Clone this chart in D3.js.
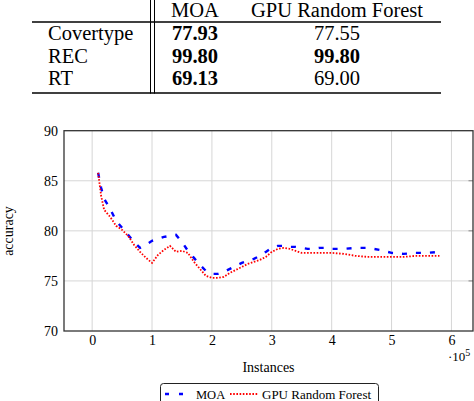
<!DOCTYPE html>
<html>
<head>
<meta charset="utf-8">
<script src="https://cdn.jsdelivr.net/npm/d3@7"></script>
<style>
html,body{margin:0;padding:0;background:#fff;}
svg{display:block;}
text{font-family:"Liberation Serif","Times New Roman",serif;fill:#000;}
</style>
</head>
<body>
<svg id="c" width="474" height="401"></svg>
<script>
// ---- table data ----
const tableColumns = ["MOA", "GPU Random Forest"];
const tableRows = ["Covertype", "REC", "RT"];
const moaValues = ["77.93", "99.80", "69.13"];
const gpuValues = ["77.55", "99.80", "69.00"];
const moaBold = [true, true, true];
const gpuBold = [false, true, false];

// ---- chart data (instances in units of 1e5) ----
const instances = [0.1,0.15,0.2,0.3,0.4,0.5,0.6,0.7,0.8,0.9,1.0,1.1,1.2,1.3,1.4,1.5,1.6,1.7,1.8,1.9,2.0,2.1,2.2,2.3,2.4,2.5,2.6,2.7,2.8,2.9,3.0,3.1,3.2,3.3,3.4,3.5,3.6,3.7,3.8,3.9,4.0,4.2,4.4,4.6,4.8,5.0,5.2,5.4,5.6,5.8];
const moaAcc = [85.8,84.3,83.2,82.2,81.0,80.3,79.6,78.9,78.3,78.6,79.0,79.2,79.4,79.5,79.6,78.9,78.0,77.3,76.6,76.0,75.7,75.7,75.9,76.2,76.5,76.8,77.0,77.2,77.5,77.9,78.3,78.5,78.5,78.4,78.4,78.3,78.2,78.2,78.3,78.3,78.2,78.2,78.3,78.3,78.1,77.8,77.7,77.8,77.8,77.9];
const gpuAcc = [85.8,83.5,82.1,81.4,80.5,80.1,79.5,78.6,77.9,77.3,76.8,77.6,78.1,78.5,77.9,78.0,77.8,76.9,76.2,75.5,75.3,75.3,75.4,75.8,76.1,76.4,76.7,76.9,77.1,77.4,77.9,78.2,78.3,78.2,78.0,77.8,77.8,77.8,77.8,77.8,77.8,77.7,77.5,77.4,77.4,77.4,77.4,77.5,77.5,77.5];
const xTicks = [0,1,2,3,4,5,6];
const yTicks = [70,75,80,85,90];
const seriesNames = ["MOA", "GPU Random Forest"];

const svg = d3.select("#c");

// ---- table ----
const tbl = svg.append("g");
const tFont = 20.5;
tbl.append("line").attr("x1",32).attr("x2",441).attr("y1",22).attr("y2",22).attr("stroke","#000").attr("stroke-width",1.3);
tbl.append("line").attr("x1",32).attr("x2",441).attr("y1",93).attr("y2",93).attr("stroke","#000").attr("stroke-width",1.3);
[150.5,154.5].forEach(x=>tbl.append("line").attr("x1",x).attr("x2",x).attr("y1",0).attr("y2",93.6).attr("stroke","#000").attr("stroke-width",1));
const colX = [195, 337];
tableColumns.forEach((c,i)=>tbl.append("text").attr("x",colX[i]).attr("y",17).attr("text-anchor","middle").attr("font-size",tFont).text(c));
const rowY = [40, 62.7, 85];
tableRows.forEach((r,i)=>{
  tbl.append("text").attr("x",48).attr("y",rowY[i]).attr("font-size",tFont).text(r);
  tbl.append("text").attr("x",colX[0]).attr("y",rowY[i]).attr("text-anchor","middle").attr("font-size",tFont)
     .attr("font-weight",moaBold[i]?"bold":"normal").text(moaValues[i]);
  tbl.append("text").attr("x",colX[1]).attr("y",rowY[i]).attr("text-anchor","middle").attr("font-size",tFont)
     .attr("font-weight",gpuBold[i]?"bold":"normal").text(gpuValues[i]);
});

// ---- chart ----
const L = 64, R = 473, T = 130.7, B = 331;
const x = d3.scaleLinear().domain([-0.47, 6.36]).range([L, R]);
const y = d3.scaleLinear().domain([70, 90]).range([B, T]);

const g = svg.append("g");
// grid
g.selectAll(".gx").data(xTicks).enter().append("line")
  .attr("x1",d=>x(d)).attr("x2",d=>x(d)).attr("y1",T).attr("y2",B)
  .attr("stroke","#d6d6d6").attr("stroke-width",1);
g.selectAll(".gy").data(yTicks.slice(1,-1)).enter().append("line")
  .attr("x1",L).attr("x2",R).attr("y1",d=>y(d)).attr("y2",d=>y(d))
  .attr("stroke","#d6d6d6").attr("stroke-width",1);
// right inside ticks
g.selectAll(".ry").data(yTicks.slice(1,-1)).enter().append("line")
  .attr("x1",R-4.5).attr("x2",R).attr("y1",d=>y(d)).attr("y2",d=>y(d))
  .attr("stroke","#888").attr("stroke-width",1);

// axes via d3
const xAxis = d3.axisBottom(x).tickValues(xTicks).tickSize(0).tickPadding(4).tickFormat(d3.format("d"));
const yAxis = d3.axisLeft(y).tickValues(yTicks).tickSize(0).tickPadding(6).tickFormat(d3.format("d"));
const gx = g.append("g").attr("transform",`translate(0,${B})`).call(xAxis);
const gy = g.append("g").attr("transform",`translate(${L},0)`).call(yAxis);
[gx,gy].forEach(a=>{a.select(".domain").remove(); a.selectAll("text").attr("font-size",14).attr("font-family","'Liberation Serif',serif").attr("fill","#000");});

// lines
const pts = (vals)=>instances.map((v,i)=>[v, vals[i]]);
const line = d3.line().x(d=>x(d[0])).y(d=>y(d[1]));
g.append("path").attr("d",line(pts(moaAcc))).attr("fill","none").attr("stroke","#0000ff")
  .attr("stroke-width",2.4).attr("stroke-dasharray","5,9");
g.append("path").attr("d",line(pts(gpuAcc))).attr("fill","none").attr("stroke","#ff0000")
  .attr("stroke-width",1.8).attr("stroke-dasharray","1.6,1.6");

// frame
g.append("rect").attr("x",L).attr("y",T).attr("width",R-L).attr("height",B-T)
  .attr("fill","none").attr("stroke","#333").attr("stroke-width",1.3);

// labels
svg.append("text").attr("transform",`translate(13,231) rotate(-90)`).attr("text-anchor","middle")
  .attr("font-size",14).text("accuracy");
svg.append("text").attr("x",(L+R)/2).attr("y",372).attr("text-anchor","middle").attr("font-size",14).text("Instances");
const sc = svg.append("text").attr("x",448).attr("y",361).attr("font-size",13);
sc.append("tspan").text("·10");
sc.append("tspan").attr("dy",-5).attr("font-size",10).text("5");

// legend
const lg = svg.append("g");
lg.append("rect").attr("x",160.5).attr("y",383.5).attr("width",218).attr("height",30).attr("rx",3)
  .attr("fill","#fff").attr("stroke","#222").attr("stroke-width",1);
lg.append("line").attr("x1",165).attr("x2",185).attr("y1",394).attr("y2",394).attr("stroke","#0000ff")
  .attr("stroke-width",2.4).attr("stroke-dasharray","4,10");
lg.append("text").attr("x",196).attr("y",398.5).attr("font-size",12.5).text(seriesNames[0]);
lg.append("line").attr("x1",230).attr("x2",258).attr("y1",394).attr("y2",394).attr("stroke","#ff0000")
  .attr("stroke-width",1.8).attr("stroke-dasharray","1.6,1.6");
lg.append("text").attr("x",262).attr("y",398.5).attr("font-size",13).text(seriesNames[1]);
</script>
</body>
</html>
